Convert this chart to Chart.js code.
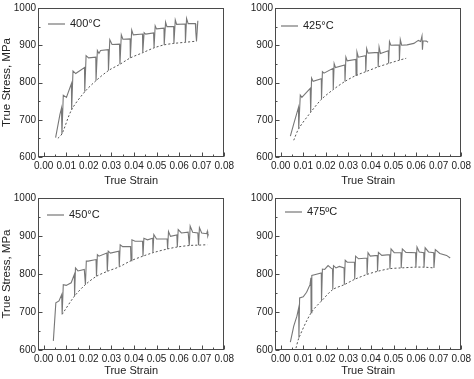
<!DOCTYPE html>
<html>
<head>
<meta charset="utf-8">
<script src="https://cdn.jsdelivr.net/npm/chart.js@4"></script>
<style>
html, body { margin: 0; padding: 0; background: #fff; }
#wrap { position: relative; width: 474px; height: 379px; }
.panel { position: absolute; }
</style>
</head>
<body>
<div id="wrap">
  <div class="panel" style="left:0;top:0;width:237px;height:190px"><canvas id="c400"></canvas></div>
  <div class="panel" style="left:237px;top:0;width:237px;height:190px"><canvas id="c425"></canvas></div>
  <div class="panel" style="left:0;top:190px;width:237px;height:189px"><canvas id="c450"></canvas></div>
  <div class="panel" style="left:237px;top:190px;width:237px;height:189px"><canvas id="c475"></canvas></div>
</div>
<script>
// ---- data ----
const xTicks = [0, 0.01, 0.02, 0.03, 0.04, 0.05, 0.06, 0.07, 0.08];
const yTicks = [600, 700, 800, 900, 1000];

// 400 °C
const strain400 = [0.0053,0.0072,0.0079,0.0081,0.0087,0.0101,0.0123,0.0124,0.0130,0.0142,0.0181,0.0182,0.0188,0.0199,0.0231,0.0232,0.0238,0.0245,0.0252,0.0286,0.0287,0.0293,0.0303,0.0336,0.0338,0.0344,0.0351,0.0383,0.0384,0.0390,0.0397,0.0438,0.0439,0.0445,0.0452,0.0487,0.0489,0.0494,0.0500,0.0533,0.0534,0.0540,0.0546,0.0576,0.0577,0.0583,0.0589,0.0627,0.0628,0.0633,0.0640,0.0672,0.0674,0.0677,0.0683];
const stress400 = [652,714,731,662,766,760,797,727,831,824,840,775,872,866,868,805,886,878,886,888,832,915,902,903,849,928,916,917,866,941,928,930,880,934,930,933,893,952,944,946,901,962,950,950,905,968,956,957,908,972,958,958,935,911,966];
const envStrain400 = [0.0063,0.0081,0.0124,0.0182,0.0232,0.0287,0.0338,0.0384,0.0439,0.0489,0.0534,0.0577,0.0628,0.0677];
const envStress400 = [650,662,727,775,805,832,849,866,880,893,901,905,908,911];

// 425 °C
const strain425 = [0.0043,0.0058,0.0079,0.0080,0.0087,0.0094,0.0131,0.0133,0.0137,0.0144,0.0180,0.0181,0.0185,0.0192,0.0232,0.0233,0.0237,0.0243,0.0284,0.0285,0.0289,0.0295,0.0333,0.0334,0.0338,0.0344,0.0376,0.0377,0.0381,0.0387,0.0431,0.0432,0.0436,0.0442,0.0477,0.0478,0.0482,0.0488,0.0525,0.0526,0.0530,0.0536,0.0560,0.0590,0.0610,0.0620,0.0626,0.0628,0.0631,0.0645,0.0653];
const stress425 = [656,689,733,676,766,760,784,720,812,803,810,755,829,825,838,781,851,840,847,803,868,858,862,819,882,868,872,829,891,879,881,842,895,878,885,851,910,900,901,860,915,900,901,905,913,910,925,888,912,911,908];
const envStrain425 = [0.0058,0.0080,0.0133,0.0181,0.0233,0.0285,0.0334,0.0377,0.0432,0.0478,0.0526,0.0556];
const envStress425 = [645,676,720,755,781,803,819,829,842,851,860,865];

// 450 °C
const strain450 = [0.0043,0.0054,0.0068,0.0080,0.0082,0.0087,0.0100,0.0122,0.0136,0.0137,0.0141,0.0152,0.0180,0.0185,0.0189,0.0197,0.0232,0.0234,0.0238,0.0245,0.0280,0.0282,0.0286,0.0296,0.0333,0.0335,0.0339,0.0350,0.0385,0.0387,0.0391,0.0405,0.0438,0.0440,0.0444,0.0460,0.0483,0.0484,0.0488,0.0500,0.0547,0.0549,0.0553,0.0562,0.0590,0.0592,0.0596,0.0610,0.0640,0.0645,0.0649,0.0660,0.0683,0.0686,0.0690,0.0700,0.0722,0.0725,0.0727,0.0730];
const stress450 = [624,724,729,746,694,772,770,777,799,742,816,808,812,772,834,834,838,794,851,847,855,807,860,855,860,819,877,872,872,835,890,886,886,847,894,890,894,856,904,892,892,866,912,899,903,871,917,908,910,875,926,910,908,876,922,908,906,912,900,905];
const envStrain450 = [0.0082,0.0137,0.0185,0.0234,0.0282,0.0335,0.0387,0.0440,0.0484,0.0549,0.0592,0.0645,0.0686,0.0725];
const envStress450 = [694,742,772,794,807,819,835,847,856,866,871,875,876,877];

// 475 °C
const strain475 = [0.0043,0.0058,0.0072,0.0080,0.0081,0.0084,0.0100,0.0115,0.0130,0.0134,0.0135,0.0138,0.0150,0.0180,0.0181,0.0185,0.0195,0.0210,0.0222,0.0230,0.0231,0.0234,0.0245,0.0260,0.0281,0.0282,0.0286,0.0295,0.0327,0.0328,0.0332,0.0345,0.0382,0.0383,0.0387,0.0397,0.0428,0.0429,0.0433,0.0448,0.0483,0.0484,0.0489,0.0503,0.0533,0.0534,0.0539,0.0555,0.0598,0.0599,0.0604,0.0614,0.0634,0.0635,0.0640,0.0655,0.0678,0.0679,0.0685,0.0705,0.0735,0.0751];
const stress475 = [621,663,689,711,632,737,740,752,772,790,698,796,798,803,729,813,812,822,816,813,759,822,816,820,816,772,836,831,831,786,847,840,842,799,856,847,849,807,857,849,851,814,866,856,856,816,866,857,856,818,871,858,856,818,869,858,856,816,864,854,849,842];
const envStrain475 = [0.0068,0.0081,0.0135,0.0181,0.0231,0.0282,0.0328,0.0383,0.0429,0.0484,0.0534,0.0599,0.0635,0.0679];
const envStress475 = [605,632,698,729,759,772,786,799,807,814,816,818,818,816];

// ---- styling ----
const FONT = '"Liberation Sans", Arial, sans-serif';
const TXT = '#222';
const AXIS = '#4a4a4a';
const LINE = '#777';

function zip(xs, ys) { return xs.map((x, i) => ({ x, y: ys[i] })); }

// frame, inward ticks and the in-plot legend
const framePlugin = {
    id: 'frame',
    afterDraw(chart, args, o) {
        const { ctx, chartArea: a, scales: { x, y } } = chart;
        const L = Math.round(a.left) + 0.5, R = Math.round(a.right) - 0.5;
        const T = Math.round(a.top) + 0.5, B = Math.round(a.bottom) - 0.5;
        ctx.save();
        ctx.strokeStyle = AXIS; ctx.lineWidth = 1;
        ctx.strokeRect(L, T, R - L, B - T);
        ctx.beginPath();
        xTicks.forEach(v => {
            const px = Math.round(x.getPixelForValue(v)) + 0.5;
            ctx.moveTo(px, B); ctx.lineTo(px, B - 4);
            if (v < 0.08) {
                const pm = Math.round(x.getPixelForValue(v + 0.005)) + 0.5;
                ctx.moveTo(pm, B); ctx.lineTo(pm, B - 2);
            }
        });
        yTicks.forEach(v => {
            const py = Math.round(y.getPixelForValue(v)) + 0.5;
            ctx.moveTo(L, py); ctx.lineTo(L + 4, py);
            if (v < 1000) {
                const pm = Math.round(y.getPixelForValue(v + 50)) + 0.5;
                ctx.moveTo(L, pm); ctx.lineTo(L + 2, pm);
            }
        });
        ctx.stroke();

        // legend
        const lx = a.left + o.dx, ly = a.top + o.dy;
        ctx.strokeStyle = LINE; ctx.lineWidth = 1.2;
        ctx.beginPath(); ctx.moveTo(lx, ly); ctx.lineTo(lx + 17, ly); ctx.stroke();
        ctx.fillStyle = TXT; ctx.font = '11px ' + FONT;
        ctx.textBaseline = 'middle'; ctx.textAlign = 'left';
        ctx.fillText(o.label, lx + 22, ly);
        ctx.restore();
    }
};

function makePanel(id, label, strain, stress, envStrain, envStress, cfg) {
    return new Chart(document.getElementById(id), {
        type: 'scatter',
        data: {
            datasets: [
                { data: zip(strain, stress), showLine: true, borderColor: LINE, borderWidth: 1.1, pointRadius: 0, tension: 0, order: 1 },
                { data: zip(envStrain, envStress), showLine: true, borderColor: '#555', borderWidth: 1, borderDash: [2, 2], pointRadius: 0, tension: 0.3, order: 2 }
            ]
        },
        options: {
            responsive: true, maintainAspectRatio: false, animation: false, devicePixelRatio: 1,
            layout: { padding: { top: cfg.top, right: cfg.right, left: 0, bottom: 0 } },
            plugins: { legend: { display: false }, tooltip: { enabled: false }, frame: { label, dx: cfg.dx, dy: cfg.dy } },
            scales: {
                x: {
                    type: 'linear', min: -0.0025, max: 0.08,
                    afterBuildTicks: s => { s.ticks = xTicks.map(v => ({ value: v })); },
                    afterFit: s => { s.height = cfg.xh; },
                    grid: { display: false, drawTicks: false }, border: { display: false },
                    ticks: { callback: v => v.toFixed(2), font: { family: FONT, size: 10 }, color: TXT, padding: 3, maxRotation: 0, autoSkip: false },
                    title: { display: true, text: 'True Strain', font: { family: FONT, size: 11 }, color: TXT, padding: { top: 0, bottom: cfg.tb } }
                },
                y: {
                    min: 600, max: 1000,
                    afterBuildTicks: s => { s.ticks = yTicks.map(v => ({ value: v })); },
                    afterFit: s => { s.width = 38; },
                    grid: { display: false, drawTicks: false }, border: { display: false },
                    ticks: { callback: v => String(v), font: { family: FONT, size: 10 }, color: TXT, padding: 2 },
                    title: { display: cfg.ytitle, text: 'True Stress, MPa', font: { family: FONT, size: 11.5 }, color: TXT, padding: { top: 0, bottom: 0 } }
                }
            }
        },
        plugins: [framePlugin]
    });
}

makePanel('c400', '400°C', strain400, stress400, envStrain400, envStress400, { top: 5, right: 8, xh: 33, tb: 2, ytitle: true, dx: 10, dy: 16 });
makePanel('c425', '425°C', strain425, stress425, envStrain425, envStress425, { top: 5, right: 9, xh: 33, tb: 2, ytitle: false, dx: 6, dy: 18 });
makePanel('c450', '450°C', strain450, stress450, envStrain450, envStress450, { top: 8, right: 9, xh: 29, tb: 1, ytitle: true, dx: 9, dy: 17 });
makePanel('c475', '475ºC', strain475, stress475, envStrain475, envStress475, { top: 8, right: 9, xh: 29, tb: 1, ytitle: false, dx: 10, dy: 14 });
</script>
</body>
</html>
